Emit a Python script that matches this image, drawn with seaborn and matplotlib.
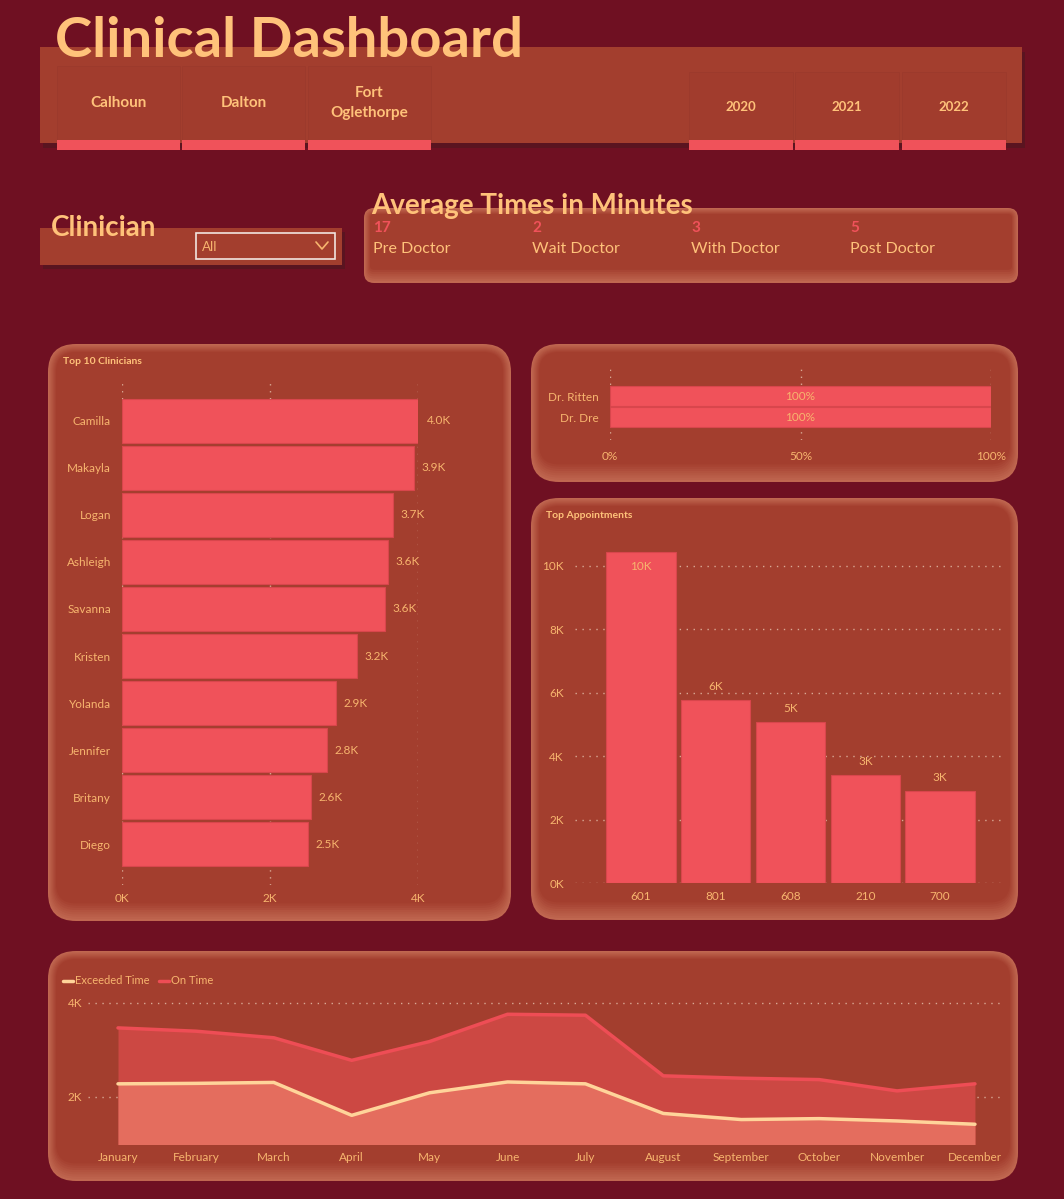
import numpy as np
import matplotlib
matplotlib.use("Agg")
import matplotlib.pyplot as plt
import seaborn as sns
from matplotlib.colors import to_rgb
from matplotlib.patches import FancyBboxPatch, Rectangle

# ---- data ----
locations = ["Calhoun", "Dalton", "Fort\nOglethorpe"]
years = ["2020", "2021", "2022"]
avg_labels = ["Pre Doctor", "Wait Doctor", "With Doctor", "Post Doctor"]
avg_minutes = [17, 2, 3, 5]

clinicians = ["Camilla", "Makayla", "Logan", "Ashleigh", "Savanna",
              "Kristen", "Yolanda", "Jennifer", "Britany", "Diego"]
clinician_k = [4.02, 3.94, 3.66, 3.59, 3.56, 3.18, 2.89, 2.77, 2.56, 2.51]

doctors = ["Dr. Ritten", "Dr. Dre"]
doctor_pct = [100, 100]

appt_types = ["601", "801", "608", "210", "700"]
appt_k = [10.44, 5.77, 5.08, 3.41, 2.90]

months = ["January", "February", "March", "April", "May", "June", "July",
          "August", "September", "October", "November", "December"]
on_time_k = [3.47, 3.40, 3.26, 2.78, 3.18, 3.76, 3.74, 2.45, 2.40, 2.37, 2.13, 2.28]
exceeded_k = [2.28, 2.29, 2.31, 1.61, 2.09, 2.32, 2.28, 1.65, 1.52, 1.54, 1.49, 1.42]

# ---- colours ----
BG = "#6F1022"
PANEL = "#A33E2E"
GLOW = "#C06750"
RED = "#F0525A"
BAR_EDGE = "#D8464C"
PEACH = "#FFC27A"
LABEL = "#F7B56E"
GRID = "#D8A894"

sns.set_theme(style="white")
plt.rcParams["font.family"] = ["Lato", "DejaVu Sans"]

W, H = 1064, 1199
fig = plt.figure(figsize=(W / 100, H / 100), dpi=100, facecolor=BG)

# full-figure canvas in pixel units for panels and loose text
bg = fig.add_axes([0, 0, 1, 1])
bg.set_xlim(0, W)
bg.set_ylim(H, 0)
bg.axis("off")


def rect(x0, y0, x1, y1):
    return [x0 / W, 1 - y1 / H, (x1 - x0) / W, (y1 - y0) / H]


def panel(x0, y0, x1, y1, r=28, steps=9):
    # soft inner glow: lighter at the rim, strongest along the bottom
    c0, c1 = np.array(to_rgb(GLOW)), np.array(to_rgb(PANEL))
    for k in range(steps):
        t = k / (steps - 1)
        col = c0 * (1 - t) + c1 * t
        side = k * 1.0
        bottom = k * 2.2
        bg.add_patch(FancyBboxPatch((x0 + side, y0 + side),
                                    x1 - x0 - 2 * side, y1 - y0 - side - bottom,
                                    boxstyle=f"round,pad=0,rounding_size={max(r - side, 4)}",
                                    fc=col, ec="none"))


# header band with slicer tiles
bg.add_patch(Rectangle((43, 52), 982, 96, fc="#5A1420", ec="none"))
bg.add_patch(Rectangle((40, 47), 982, 96, fc=PANEL, ec="none"))
for i, (x0, x1) in enumerate([(57, 180), (182, 305), (308, 431)]):
    bg.add_patch(Rectangle((x0, 66), x1 - x0, 74, fc="#A13C2D", ec="#9C3A2C", lw=0.6))
    bg.add_patch(Rectangle((x0, 140), x1 - x0, 10, fc=RED, ec="none"))
    bg.text((x0 + x1) / 2, 103, locations[i], color=PEACH, fontsize=11,
            fontweight="bold", ha="center", va="center", linespacing=1.5)
for i, (x0, x1) in enumerate([(689, 793), (795, 899), (902, 1006)]):
    bg.add_patch(Rectangle((x0, 72), x1 - x0, 68, fc="#A13C2D", ec="#9C3A2C", lw=0.6))
    bg.add_patch(Rectangle((x0, 140), x1 - x0, 10, fc=RED, ec="none"))
    bg.text((x0 + x1) / 2, 107, years[i], color=PEACH, fontsize=9.5,
            fontweight="bold", ha="center", va="center")
bg.text(55, 41, "Clinical Dashboard", color=PEACH, fontsize=40.5,
        fontweight="bold", ha="left", va="center")

# clinician slicer
bg.add_patch(Rectangle((43, 232), 302, 37, fc="#5A1420", ec="none"))
bg.add_patch(Rectangle((40, 228), 302, 37, fc=PANEL, ec="none"))
bg.text(51, 228, "Clinician", color=PEACH, fontsize=20, fontweight="bold",
        ha="left", va="center")
bg.add_patch(Rectangle((196, 233), 139, 26, fc="none", ec="#F2E6E0", lw=1.2))
bg.text(202, 247, "All", color=LABEL, fontsize=9.5, ha="left", va="center")
bg.plot([316, 322, 328], [242, 249, 242], color=LABEL, lw=1.2)

# average times card
panel(364, 208, 1018, 283, r=10, steps=7)
bg.text(371, 206, "Average Times in Minutes", color=PEACH, fontsize=20,
        fontweight="bold", ha="left", va="center")
for i, (lab, val) in enumerate(zip(avg_labels, avg_minutes)):
    x = 373 + i * 159
    bg.text(x, 228, str(val), color=RED, fontsize=11, fontweight="bold",
            ha="left", va="center")
    bg.text(x, 249, lab, color=PEACH, fontsize=11.5, ha="left", va="center")

# chart panels
panel(48, 344, 511, 921)
panel(531, 344, 1018, 482)
panel(531, 498, 1018, 920)
panel(48, 951, 1018, 1181)


def style_axes(ax):
    ax.set_facecolor("none")
    for s in ax.spines.values():
        s.set_visible(False)
    ax.tick_params(length=0, colors=LABEL, labelsize=8.5)
    ax.set_xlabel("")
    ax.set_ylabel("")


bar_kw = dict(color=RED, saturation=1, edgecolor=BAR_EDGE, linewidth=0.8, zorder=3)

# ---- Top 10 Clinicians ----
bg.text(63, 361, "Top 10 Clinicians", color=PEACH, fontsize=7.5,
        fontweight="bold", ha="left", va="center")
ax1 = fig.add_axes(rect(122, 380, 418, 885))
sns.barplot(x=clinician_k, y=clinicians, ax=ax1, width=0.95, orient="h", **bar_kw)
style_axes(ax1)
ax1.set_xlim(0, 4.0)
ax1.set_ylim(9.87, -0.87)
ax1.set_xticks([0, 2, 4])
ax1.set_xticklabels(["0K", "2K", "4K"])
ax1.xaxis.grid(True, color=GRID, linestyle=(0, (1, 4)), lw=1)
ax1.set_axisbelow(True)
ax1.tick_params(axis="y", pad=8)
ax1.tick_params(axis="x", pad=6)
for i, v in enumerate(clinician_k):
    ax1.text(v + 0.1, i, f"{v:.1f}K", color=LABEL, fontsize=8.5,
             ha="left", va="center", clip_on=False)

# ---- Clinician share ----
ax2 = fig.add_axes(rect(610, 367, 991, 440))
sns.barplot(x=doctor_pct, y=doctors, ax=ax2, width=0.95, orient="h", **bar_kw)
style_axes(ax2)
ax2.set_xlim(0, 100)
ax2.set_ylim(2.07, -1.4)
ax2.set_xticks([0, 50, 100])
ax2.set_xticklabels(["0%", "50%", "100%"])
ax2.xaxis.grid(True, color=GRID, linestyle=(0, (1, 4)), lw=1)
ax2.set_axisbelow(True)
ax2.tick_params(axis="y", pad=8)
ax2.tick_params(axis="x", pad=8)
for i, v in enumerate(doctor_pct):
    ax2.text(v / 2, i, f"{v}%", color=LABEL, fontsize=8.5,
             ha="center", va="center", zorder=5)

# ---- Top Appointments ----
bg.text(546, 515, "Top Appointments", color=PEACH, fontsize=7.5,
        fontweight="bold", ha="left", va="center")
ax3 = fig.add_axes(rect(575, 545, 1003, 883))
sns.barplot(x=appt_types, y=appt_k, order=appt_types, ax=ax3, width=0.93, **bar_kw)
style_axes(ax3)
ax3.set_xlim(-0.88, 4.84)
ax3.set_ylim(0, 10.66)
ax3.set_yticks(range(0, 11, 2))
ax3.set_yticklabels([f"{v}K" for v in range(0, 11, 2)])
ax3.yaxis.grid(True, color=GRID, linestyle=(0, (1, 4)), lw=1)
ax3.set_axisbelow(True)
ax3.tick_params(axis="y", pad=8)
ax3.tick_params(axis="x", pad=6)
for i, v in enumerate(appt_k):
    dy = -0.45 if i == 0 else 0.42
    ax3.text(i, v + dy, f"{v:.0f}K", color=LABEL, fontsize=8.5,
             ha="center", va="center", zorder=5)

# ---- On Time vs Exceeded Time ----
ax4 = fig.add_axes(rect(88, 995, 1003, 1144))
x = np.arange(len(months))
ax4.fill_between(x, 0, on_time_k, color="#CC4843", lw=0, zorder=2)
ax4.fill_between(x, 0, exceeded_k, color="#E46D5E", lw=0, zorder=3)
sns.lineplot(x=x, y=on_time_k, ax=ax4, color="#EE4D55", lw=2.5, zorder=4)
sns.lineplot(x=x, y=exceeded_k, ax=ax4, color="#FFD49A", lw=2.5, zorder=5)
style_axes(ax4)
ax4.set_xlim(-0.385, 11.36)
ax4.set_ylim(1.0, 4.17)
ax4.set_yticks([2, 4])
ax4.set_yticklabels(["2K", "4K"])
ax4.set_xticks(x)
ax4.set_xticklabels(months)
ax4.yaxis.grid(True, color=GRID, linestyle=(0, (1, 4)), lw=1)
ax4.set_axisbelow(True)
ax4.tick_params(axis="y", pad=4)
ax4.tick_params(axis="x", pad=6)

# legend
bg.plot([63, 73], [981, 981], color="#FFD49A", lw=2.5)
bg.text(75, 981, "Exceeded Time", color=LABEL, fontsize=8, ha="left", va="center")
bg.plot([159, 169], [981, 981], color="#EE4D55", lw=2.5)
bg.text(171, 981, "On Time", color=LABEL, fontsize=8, ha="left", va="center")

fig.savefig("out.png", dpi=100, facecolor=BG)
